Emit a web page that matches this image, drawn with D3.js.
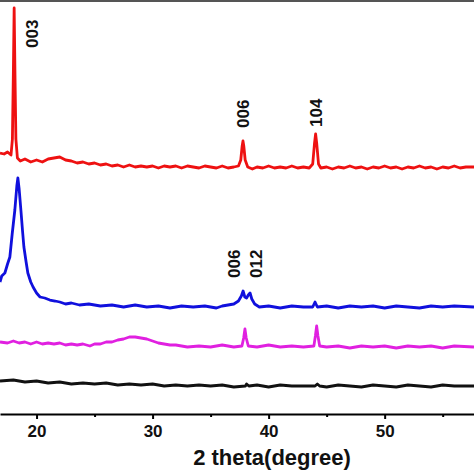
<!DOCTYPE html>
<html>
<head>
<meta charset="utf-8">
<script src="https://cdn.jsdelivr.net/npm/d3@7"></script>
<style>
  body { margin: 0; background: #fff; }
  svg { display: block; font-family: "Liberation Sans", Arial, sans-serif; }
</style>
</head>
<body>
<div id="chart"></div>
<script>
// XRD patterns, [2 theta, intensity (a.u., stacked offsets included)]
const red = [[16.85,261],[17.2,260],[17.5,262],[17.8,259],[17.92,275],[18.0,340],[18.07,406],[18.14,340],[18.22,275],[18.35,256],[18.6,253],[19.0,255],[19.5,252],[20.0,254],[20.5,252],[21.0,255],[21.5,256],[22.0,257],[22.5,254],[23.0,253],[23.5,251],[24.0,252],[24.5,250],[25.0,251],[25.5,249],[26.0,250],[26.5,248],[27.0,249],[27.5,247],[28.0,249],[28.5,247],[29.0,248],[29.5,247],[30.0,248],[30.5,246],[31.0,248],[31.5,247],[32.0,248],[32.5,246],[33.0,248],[33.5,247],[34.0,246],[34.5,248],[35.0,247],[35.5,246],[36.0,248],[36.5,246],[37.0,247],[37.4,248],[37.6,254],[37.72,268],[37.79,273],[37.86,268],[37.98,254],[38.2,247],[38.6,245],[39.0,247],[39.5,246],[40.0,248],[40.5,246],[41.0,247],[41.5,246],[42.0,248],[42.5,246],[43.0,247],[43.5,246],[43.8,250],[43.95,270],[44.05,280],[44.15,270],[44.3,250],[44.5,246],[45,247],[45.5,245],[46,247],[46.5,246],[47,248],[47.5,246],[48,247],[48.5,245],[49,247],[49.5,246],[50,248],[50.5,246],[51,247],[51.5,245],[52,247],[52.5,246],[53,248],[53.5,246],[54,247],[54.5,245],[55,247],[55.5,246],[56,248],[56.5,246],[57,247],[57.7,247]];

const blue = [[16.85,132],[17.0,138],[17.27,141],[17.5,150],[17.7,157],[17.9,180],[18.13,204],[18.3,228],[18.39,236],[18.5,225],[18.65,204],[18.8,182],[18.91,167],[19.1,152],[19.25,141],[19.5,132],[19.7,127],[20.0,121],[20.3,117],[20.7,116],[21.15,114],[21.6,113],[22,112],[22.5,110],[23,111],[23.7,109],[24.5,110],[25.5,108],[26.5,109],[27.5,107],[28.5,109],[29.5,107],[30.5,108],[31.5,106],[32.5,108],[33.5,107],[34.5,108],[35.5,106],[36.0,108],[36.5,109],[37.0,110],[37.4,113],[37.65,118],[37.8,123],[37.95,117],[38.1,116],[38.25,119],[38.4,121],[38.55,115],[38.8,110],[39.2,107],[40,108],[41,106],[42,108],[43,107],[43.8,107],[44.0,112],[44.2,107],[45,108],[46,106],[47,108],[48,107],[49,108],[50,106],[51,108],[52,107],[53,106],[54,108],[55,107],[56,108],[57.7,107]];

const magenta = [[16.85,72],[17.5,71],[18,73],[18.5,71],[19,72],[19.5,70],[20,72],[20.5,70],[21,71],[21.5,70],[22,71],[22.5,69],[23,70],[23.5,69],[24,70],[24.6,68],[25,70],[25.5,70],[26,72],[26.5,72],[27,74],[27.5,75],[28,77],[28.5,77],[29,76],[29.5,75],[30,73],[30.5,71],[31,70],[31.5,69],[32,69],[33,67],[34,68],[35,67],[36,69],[37,67],[37.7,68],[37.85,76],[37.96,85],[38.07,76],[38.25,68],[39,67],[40,69],[41,67],[42,68],[43,67],[43.9,68],[44.03,78],[44.14,88],[44.25,78],[44.4,68],[45,67],[46,68],[47,66],[48,68],[49,67],[50,68],[51,66],[52,68],[53,67],[54,68],[55,66],[56,68],[57.7,67]];

const black = [[16.85,33],[18,34],[19,32],[20,33],[21,31],[22,32],[23,30],[24,31],[25,30],[26,31],[27,29],[28,30],[29,29],[30,30],[31,28],[32,29],[33,28],[34,29],[35,28],[36,29],[37,27],[38,28],[38.1,30],[38.3,28],[39,29],[40,27],[41,29],[42,28],[43,28],[44,28],[44.2,30],[44.4,28],[45,27],[46,29],[47,28],[48,27],[49,29],[50,28],[51,27],[52,29],[53,28],[54,27],[55,29],[56,28],[57.7,28]];

const seriesNames = ['red', 'blue', 'magenta', 'black'];
const seriesColors = ['#ee1111', '#1010dd', '#e020e0', '#111111'];
const seriesData = [red, blue, magenta, black];

// peak labels: text, 2 theta, intensity at label bottom
const peakLabels = ['003', '006', '104', '006', '012'];
const peakPos = [19.6, 37.8, 44.05, 37.0, 38.95];
const peakLevel = [366, 286, 287, 136, 136];

const xTicks = [20, 30, 40, 50];
const xMinorTicks = [25, 35, 45, 55];

const svgWidth = 474;
const svgHeight = 474;
const axisY = 414;

const svg = d3.select('#chart')
    .append('svg')
    .attr('width', svgWidth)
    .attr('height', svgHeight);

const xScale = d3.scaleLinear()
    .domain([16.85, 57.7])
    .range([0, svgWidth]);

const yScale = d3.scaleLinear()
    .domain([0, 412])
    .range([axisY, 2]);

// top frame line
svg.append('line')
    .attr('x1', 0).attr('x2', svgWidth)
    .attr('y1', 1).attr('y2', 1)
    .attr('stroke', '#555')
    .attr('stroke-width', 2);

const line = d3.line()
    .x(d => xScale(d[0]))
    .y(d => yScale(d[1]));

svg.selectAll('path.trace')
    .data(seriesData)
    .enter()
    .append('path')
    .attr('class', 'trace')
    .attr('d', line)
    .attr('fill', 'none')
    .attr('stroke', (d, i) => seriesColors[i])
    .attr('stroke-width', 2.8)
    .attr('stroke-linejoin', 'round');

// peak labels, rotated
svg.selectAll('text.peak')
    .data(peakLabels)
    .enter()
    .append('text')
    .attr('class', 'peak')
    .attr('transform', (d, i) => `translate(${xScale(peakPos[i]) + 6},${yScale(peakLevel[i])}) rotate(-90)`)
    .style('font-size', '17px')
    .style('font-weight', 'bold')
    .style('fill', '#111')
    .text(d => d);

// x axis
const xAxis = svg.append('g')
    .attr('transform', `translate(0,${axisY})`)
    .call(d3.axisBottom(xScale).tickValues(xTicks).tickSize(5).tickSizeOuter(0).tickPadding(6));

xAxis.select('.domain')
    .attr('stroke', '#000')
    .attr('stroke-width', 2);
xAxis.selectAll('.tick line')
    .attr('stroke', '#000')
    .attr('stroke-width', 2);
xAxis.selectAll('.tick text')
    .style('font-size', '17px')
    .style('font-weight', 'bold')
    .style('font-family', '"Liberation Sans", Arial, sans-serif')
    .attr('fill', '#111');

svg.append('g')
    .attr('transform', `translate(0,${axisY})`)
    .call(d3.axisBottom(xScale).tickValues(xMinorTicks).tickSize(3).tickSizeOuter(0).tickFormat(''))
    .call(g => g.select('.domain').remove())
    .selectAll('.tick line')
    .attr('stroke', '#000')
    .attr('stroke-width', 2);

svg.append('text')
    .attr('x', 272)
    .attr('y', 465)
    .attr('text-anchor', 'middle')
    .style('font-size', '22px')
    .style('font-weight', 'bold')
    .style('fill', '#111')
    .text('2 theta(degree)');
</script>
</body>
</html>
